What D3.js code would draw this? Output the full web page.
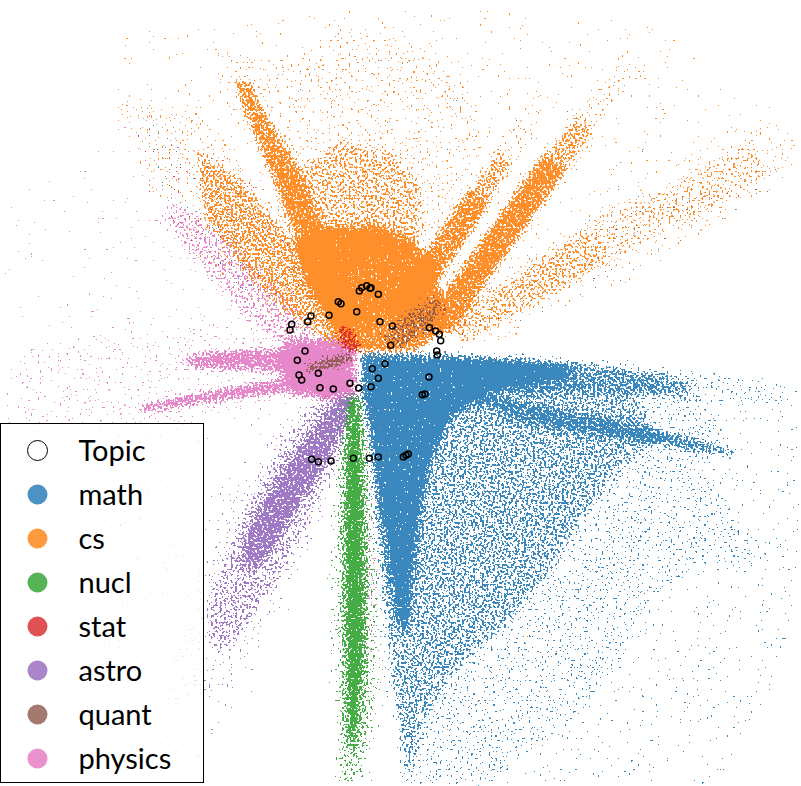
<!DOCTYPE html>
<html lang="en">
<head>
  <meta charset="UTF-8">
  <title>Topic map</title>
  <script src="https://d3js.org/d3.v7.min.js"></script>
  <style>
    body { margin: 0; background: #fff; }
    svg { display: block; }
  </style>
</head>
<body>
  <div id="chart"></div>
  <script>
    const width = 801, height = 786;

    // categories in legend order
    const categories = ["math", "cs", "nucl", "stat", "astro", "quant", "physics"];
    const palette = ["#1f77b4", "#ff7f0e", "#2ca02c", "#d62728", "#9467bd", "#8c564b", "#e377c2"];
    // order in which the point clouds are stacked
    const drawOrder = ["astro", "nucl", "physics", "math", "cs", "stat", "quant"];

    // point-density regions of each category
    // d = share of the ground covered by points (0..1), pts = outline in map units
    const mathRegions = [
      {d: 0.07, pts: [[362,350],[600,358],[720,372],[800,385],[800,600],[770,700],[720,786],[400,786],[372,650],[362,500]]},
      {d: 0.22, pts: [[365,356],[600,368],[700,395],[730,430],[700,470],[740,520],[760,570],[700,565],[650,600],[615,670],[560,730],[480,786],[410,786],[388,680],[372,520]]},
      {d: 0.4, pts: [[368,360],[560,372],[640,400],[660,440],[620,470],[580,520],[545,580],[500,630],[455,670],[425,720],[413,770],[405,780],[395,700],[382,600],[372,480]]},
      {d: 0.6, pts: [[440,355],[580,362],[665,375],[700,388],[665,395],[580,392],[480,395]]},
      {d: 0.25, pts: [[600,362],[700,372],[790,388],[780,405],[700,400],[620,395]]},
      {d: 0.9, pts: [[360,352],[440,354],[520,358],[580,364],[560,380],[490,392],[450,420],[432,462],[420,520],[414,580],[408,630],[398,630],[388,570],[378,500],[368,430],[360,390]]},
      {d: 0.75, pts: [[470,392],[560,410],[640,425],[700,440],[738,450],[734,456],[690,450],[620,436],[530,418],[465,402]]},
      {d: 0.55, pts: [[500,412],[600,428],[690,440],[688,447],[600,438],[500,420]]},
      {d: 0.07, pts: [[140,110],[230,170],[300,260],[345,340],[300,340],[230,280],[160,190]]},
      {d: 0.04, pts: [[250,60],[450,40],[600,120],[780,200],[700,300],[450,340],[320,300]]}
    ];
    const csRegions = [
      {d: 0.06, pts: [[120,30],[300,10],[500,5],[650,20],[780,110],[800,180],[650,250],[450,330],[330,320],[200,200],[110,120]]},
      {d: 0.15, pts: [[215,50],[300,60],[340,30],[420,40],[470,80],[480,150],[440,230],[380,260],[300,250],[250,150]]},
      {d: 0.42, pts: [[265,150],[300,170],[340,140],[390,150],[420,180],[425,225],[410,285],[370,330],[320,300],[285,220]]},
      {d: 0.9, pts: [[292,240],[330,225],[380,225],[415,240],[435,262],[442,295],[446,330],[420,350],[380,353],[355,352],[335,335],[308,290]]},
      {d: 0.8, pts: [[233,80],[250,82],[266,115],[295,160],[322,220],[348,290],[360,330],[342,338],[322,290],[290,220],[265,160],[246,115]]},
      {d: 0.85, pts: [[386.4,310.2],[468.4,187.2],[491.6,202.8],[409.6,325.8]]},
      {d: 0.6, pts: [[471,188],[497,150],[514,162],[490,202]]},
      {d: 0.22, pts: [[495,150],[515,120],[535,90],[545,95],[530,125],[515,164]]},
      {d: 0.9, pts: [[424.8,318.3],[542.8,153.3],[567.2,170.7],[449.2,335.7]]},
      {d: 0.6, pts: [[545,154],[575,117],[595,133],[566,171]]},
      {d: 0.22, pts: [[568,118],[600,80],[632,55],[645,65],[615,100],[592,136]]},
      {d: 0.45, pts: [[450,318],[590,226],[612,262],[462,348]]},
      {d: 0.3, pts: [[590,221],[637,199],[690,174],[752,143],[770,175],[710,212],[657,237],[612,259]]},
      {d: 0.08, pts: [[440,330],[560,230],[700,140],[790,120],[800,170],[720,225],[600,300],[500,348]]},
      {d: 0.55, pts: [[195,150],[240,178],[292,240],[338,298],[358,340],[332,348],[288,315],[246,276],[205,220]]},
      {d: 0.14, pts: [[120,100],[200,110],[262,195],[325,280],[345,340],[280,335],[215,275],[140,180]]},
      {d: 0.04, pts: [[365,365],[600,380],[700,500],[600,700],[420,786],[380,600]]}
    ];
    const nuclRegions = [
      {d: 0.9, pts: [[349,398],[359,398],[363,460],[365,550],[365,650],[359,720],[354,755],[348,735],[345,650],[344,550],[345,460]]},
      {d: 0.4, pts: [[344,392],[366,392],[372,500],[376,620],[375,700],[365,770],[352,786],[340,786],[337,700],[335,600],[337,480]]},
      {d: 0.08, pts: [[333,385],[372,385],[384,550],[384,720],[372,786],[332,786],[326,600]]},
      {d: 0.04, pts: [[150,300],[350,380],[300,500],[150,450]]}
    ];
    const statRegions = [
      {d: 0.85, pts: [[336,324],[352,328],[361,346],[357,357],[343,350]]},
      {d: 0.05, pts: [[120,110],[260,170],[335,300],[260,310],[150,210]]}
    ];
    const astroRegions = [
      {d: 0.8, pts: [[340,394],[354,394],[344,430],[322,470],[296,510],[276,544],[258,568],[242,566],[244,540],[262,504],[290,460],[320,420]]},
      {d: 0.42, pts: [[322,390],[358,390],[346,450],[320,500],[290,560],[260,610],[232,648],[208,648],[208,600],[226,550],[250,500],[285,440]]},
      {d: 0.12, pts: [[300,385],[360,385],[342,480],[302,560],[262,640],[222,700],[170,700],[185,600],[220,520],[260,460]]},
      {d: 0.06, pts: [[100,480],[200,470],[300,430],[300,600],[250,700],[200,760],[120,760],[100,650]]}
    ];
    const quantRegions = [
      {d: 0.9, pts: [[303,365],[330,357],[351,352],[356,360],[335,368],[308,374]]},
      {d: 0.6, pts: [[380,340],[405,312],[438,295],[448,310],[425,335],[400,350]]},
      {d: 0.05, pts: [[400,300],[600,220],[780,150],[780,200],[600,300],[450,350]]}
    ];
    const physicsRegions = [
      {d: 0.92, pts: [[283,340],[340,336],[357,350],[357,395],[330,401],[293,396],[278,370]]},
      {d: 0.88, pts: [[345,350],[300,348],[240,349],[200,353],[180,361],[200,369],[250,371],[300,373],[345,373]]},
      {d: 0.88, pts: [[140,405],[180,396],[240,385],[300,375],[345,372],[345,390],[300,391],[240,399],[180,407],[140,413]]},
      {d: 0.45, pts: [[172,196],[230,238],[280,288],[322,330],[290,348],[248,322],[206,272],[162,222]]},
      {d: 0.12, pts: [[20,350],[100,335],[200,325],[280,330],[300,402],[200,420],[100,432],[20,422]]},
      {d: 0.05, pts: [[0,200],[150,100],[300,200],[360,400],[300,452],[0,452]]},
      {d: 0.25, pts: [[360,395],[376,400],[379,600],[373,700],[365,700],[366,500]]}
    ];
    const regionsByCat = {
      math: mathRegions, cs: csRegions, nucl: nuclRegions, stat: statRegions,
      astro: astroRegions, quant: quantRegions, physics: physicsRegions
    };

    // topic centres
    const topicX = [359.3,361.7,366.7,370,371,378.3,338.3,341,356.7,311,307.7,329,291.7,290,380,392.3,
                    429.3,435.7,439.3,440.7,390.7,436.7,437.3,305,297.3,385,372.3,299,301.7,318.3,378.3,429,
                    320,333.3,350,358.7,371,422.3,425,311.7,318.3,331,353.3,369.3,378.3,403.3,406,408.3];
    const topicY = [291,287.7,285.7,288.3,287.7,294.3,301.7,303.7,311.7,316,321.7,315.3,324.3,330,321.7,326,
                    327.7,331,334.3,340.7,345.3,351,355,351,360.3,363.7,368.7,375,380,373.3,378.3,377,
                    387.7,389,383.3,388,386.7,394.7,394,459.3,461.7,461,458.3,458.3,457,457,455.3,454];

    const x = d3.scaleLinear().domain([0, 801]).range([0, width]);
    const y = d3.scaleLinear().domain([0, 786]).range([0, height]);
    const color = d3.scaleOrdinal().domain(categories).range(palette);

    const svg = d3.select("#chart")
                  .append("svg")
                  .attr("width", width)
                  .attr("height", height);

    // crowding -> noise threshold lift (lookup, 0..1 in steps of .05)
    const liftTable = "0 0.288 0.316 0.33 0.343 0.353 0.363 0.386 0.41 0.436 0.463 0.488 0.513 0.531 0.55 0.566 0.583 0.616 0.65 0.74 0.83";

    // one filter per category: blurred region alpha -> crowding, noise -> scattered dots
    const defs = svg.append("defs");
    categories.forEach((c, i) => {
      const f = defs.append("filter")
                    .attr("id", "dots-" + c)
                    .attr("filterUnits", "userSpaceOnUse")
                    .attr("x", 0).attr("y", 0)
                    .attr("width", width).attr("height", height)
                    .attr("color-interpolation-filters", "sRGB");
      f.append("feGaussianBlur").attr("in", "SourceAlpha").attr("stdDeviation", 3).attr("result", "blur");
      f.append("feComponentTransfer").attr("in", "blur").attr("result", "dens")
       .append("feFuncA").attr("type", "table").attr("tableValues", liftTable);
      f.append("feTurbulence").attr("type", "fractalNoise").attr("baseFrequency", 0.45)
       .attr("numOctaves", 1).attr("seed", 3 + i * 7).attr("result", "noise");
      f.append("feColorMatrix").attr("in", "noise").attr("type", "matrix")
       .attr("values", "0 0 0 0 0  0 0 0 0 0  0 0 0 0 0  1 0 0 0 0").attr("result", "na");
      f.append("feComposite").attr("in", "na").attr("in2", "dens").attr("operator", "arithmetic")
       .attr("k1", 0).attr("k2", 1).attr("k3", 1).attr("k4", -1).attr("result", "sum");
      f.append("feComponentTransfer").attr("in", "sum").attr("result", "mask")
       .append("feFuncA").attr("type", "discrete").attr("tableValues", "0" + " 1".repeat(29));
      f.append("feFlood").attr("flood-color", color(c)).attr("flood-opacity", 0.88).attr("result", "col");
      f.append("feComposite").attr("in", "col").attr("in2", "mask").attr("operator", "in");
    });

    const outline = d3.line()
                      .x(p => x(p[0]))
                      .y(p => y(p[1]))
                      .curve(d3.curveLinearClosed);

    drawOrder.forEach(c => {
      svg.append("g")
         .attr("filter", `url(#dots-${c})`)
         .selectAll("path")
         .data(regionsByCat[c])
         .enter()
         .append("path")
         .attr("d", r => outline(r.pts))
         .attr("fill", "#000")
         .attr("fill-opacity", r => r.d);
    });

    // topics
    svg.append("g")
       .selectAll("circle")
       .data(topicX.map((v, i) => [v, topicY[i]]))
       .enter()
       .append("circle")
       .attr("cx", d => x(d[0]))
       .attr("cy", d => y(d[1]))
       .attr("r", 3)
       .attr("fill", "none")
       .attr("stroke", "#000")
       .attr("stroke-width", 1.5);

    // legend
    const legend = svg.append("g").attr("transform", "translate(0.5, 423.5)");
    legend.append("rect")
          .attr("width", 203)
          .attr("height", 359)
          .attr("fill", "#fff")
          .attr("fill-opacity", 0.8)
          .attr("stroke", "#000")
          .attr("stroke-width", 1);

    const legendItems = ["Topic"].concat(categories);
    const item = legend.selectAll(".legend-item")
                       .data(legendItems)
                       .enter()
                       .append("g")
                       .attr("transform", (d, i) => `translate(37, ${27 + i * 44})`);

    item.append("circle")
        .attr("r", 10)
        .attr("fill", d => d === "Topic" ? "none" : color(d))
        .attr("fill-opacity", 0.8)
        .attr("stroke", d => d === "Topic" ? "#000" : "none")
        .attr("stroke-width", 1);

    item.append("text")
        .attr("x", 41)
        .attr("y", 10)
        .style("font-family", "Lato, 'Open Sans', sans-serif")
        .style("font-size", "29px")
        .text(d => d);
  </script>
</body>
</html>
